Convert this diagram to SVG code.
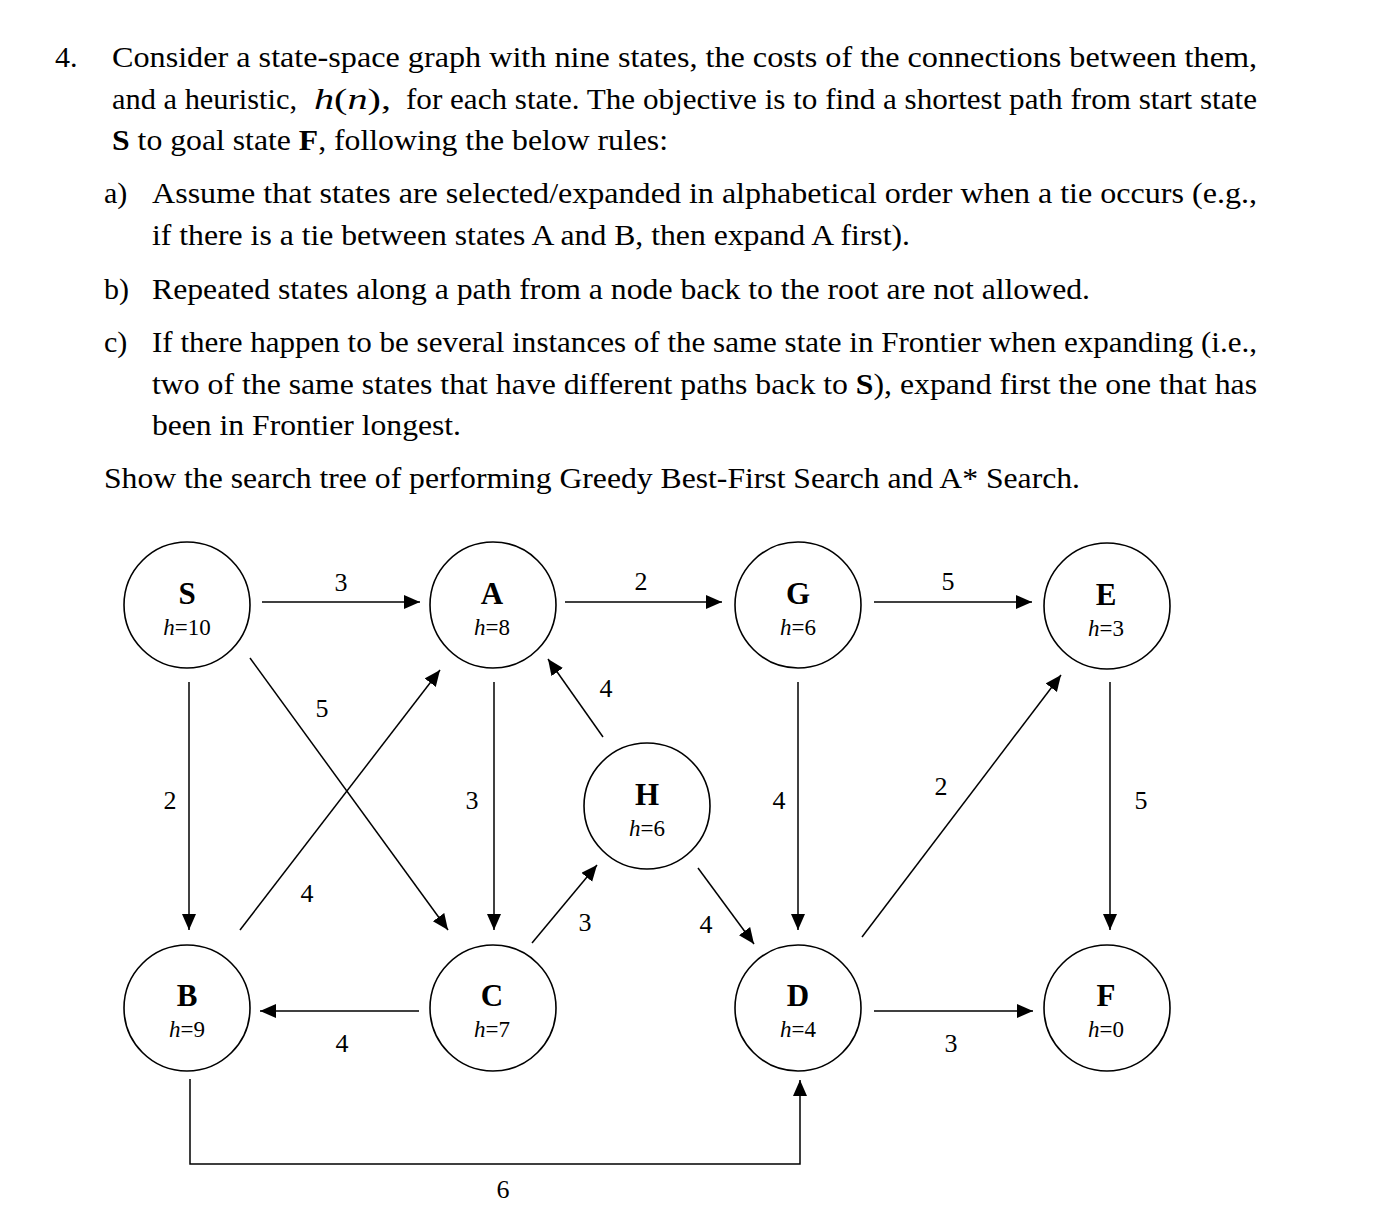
<svg xmlns="http://www.w3.org/2000/svg" width="1378" height="1216" viewBox="0 0 1378 1216">
<style>
.t{font-family:"Liberation Serif","Times New Roman",serif;font-size:30px;fill:#000}
.b{font-weight:bold}
.i{font-style:italic}
.nl{font-family:"Liberation Serif","Times New Roman",serif;font-size:31px;font-weight:bold;text-anchor:middle;fill:#000}
.nh{font-family:"Liberation Serif","Times New Roman",serif;font-size:23px;text-anchor:middle;fill:#000}
.el{font-family:"Liberation Serif","Times New Roman",serif;font-size:26px;text-anchor:middle;fill:#000}
.node circle{fill:#fff;stroke:#000;stroke-width:1.6}
.edge{fill:none;stroke:#000;stroke-width:1.5;marker-end:url(#arr)}
</style>
<defs>
<marker id="arr" markerUnits="userSpaceOnUse" markerWidth="17" markerHeight="15" refX="16" refY="7" orient="auto">
<path d="M0,0 L16,7 L0,14 z" fill="#000"/>
</marker>
</defs>
<rect width="1378" height="1216" fill="#fff"/>
<g id="question">
<text class="t" x="55" y="67">4.</text>
<text class="t" x="112" y="67" textLength="1145" lengthAdjust="spacingAndGlyphs">Consider a state-space graph with nine states, the costs of the connections between them,</text>
<text class="t" x="112" y="109" textLength="185" lengthAdjust="spacingAndGlyphs">and a heuristic,</text>
<text class="t" x="314" y="109" textLength="77" lengthAdjust="spacingAndGlyphs"><tspan class="i">h</tspan>(<tspan class="i">n</tspan>),</text>
<text class="t" x="406" y="109" textLength="851" lengthAdjust="spacingAndGlyphs">for each state. The objective is to find a shortest path from start state</text>
<text class="t" x="112" y="150" textLength="556" lengthAdjust="spacingAndGlyphs"><tspan class="b">S</tspan> to goal state <tspan class="b">F</tspan>, following the below rules:</text>
<text class="t" x="104" y="203">a)</text>
<text class="t" x="152" y="203" textLength="1105" lengthAdjust="spacingAndGlyphs">Assume that states are selected/expanded in alphabetical order when a tie occurs (e.g.,</text>
<text class="t" x="152" y="245" textLength="758" lengthAdjust="spacingAndGlyphs">if there is a tie between states A and B, then expand A first).</text>
<text class="t" x="104" y="299">b)</text>
<text class="t" x="152" y="299" textLength="938" lengthAdjust="spacingAndGlyphs">Repeated states along a path from a node back to the root are not allowed.</text>
<text class="t" x="104" y="352">c)</text>
<text class="t" x="152" y="352" textLength="1105" lengthAdjust="spacingAndGlyphs">If there happen to be several instances of the same state in Frontier when expanding (i.e.,</text>
<text class="t" x="152" y="394" textLength="1105" lengthAdjust="spacingAndGlyphs">two of the same states that have different paths back to <tspan class="b">S</tspan>), expand first the one that has</text>
<text class="t" x="152" y="435" textLength="309" lengthAdjust="spacingAndGlyphs">been in Frontier longest.</text>
<text class="t" x="104" y="488" textLength="976" lengthAdjust="spacingAndGlyphs">Show the search tree of performing Greedy Best-First Search and A* Search.</text>
</g>
<g id="connectors">
<path class="edge" d="M262,602 L420,602"/>
<path class="edge" d="M565,602 L722,602"/>
<path class="edge" d="M874,602 L1032,602"/>
<path class="edge" d="M189,682 L189,930"/>
<path class="edge" d="M494,682 L494,930"/>
<path class="edge" d="M798,682 L798,930"/>
<path class="edge" d="M1110,682 L1110,930"/>
<path class="edge" d="M250,658 L448,930"/>
<path class="edge" d="M240,930 L440,670"/>
<path class="edge" d="M603,737 L548,659"/>
<path class="edge" d="M532,943 L597,865"/>
<path class="edge" d="M698,868 L754,944"/>
<path class="edge" d="M862,937 L1061,675"/>
<path class="edge" d="M419,1011 L260,1011"/>
<path class="edge" d="M874,1011 L1033,1011"/>
<path class="edge" d="M190,1079 L190,1164 L800,1164 L800,1080"/>
<text class="el" x="341" y="591">3</text>
<text class="el" x="641" y="590">2</text>
<text class="el" x="948" y="590">5</text>
<text class="el" x="322" y="717">5</text>
<text class="el" x="170" y="809">2</text>
<text class="el" x="472" y="809">3</text>
<text class="el" x="606" y="697">4</text>
<text class="el" x="307" y="902">4</text>
<text class="el" x="585" y="931">3</text>
<text class="el" x="706" y="933">4</text>
<text class="el" x="779" y="809">4</text>
<text class="el" x="941" y="795">2</text>
<text class="el" x="1141" y="809">5</text>
<text class="el" x="342" y="1052">4</text>
<text class="el" x="951" y="1052">3</text>
<text class="el" x="503" y="1198">6</text>
</g>
<g id="node-S" class="node"><circle cx="187" cy="605" r="63"/><text class="nl" x="187" y="604">S</text><text class="nh" x="187" y="635"><tspan class="i">h</tspan>=10</text></g>
<g id="node-A" class="node"><circle cx="493" cy="605" r="63"/><text class="nl" x="492" y="604">A</text><text class="nh" x="492" y="635"><tspan class="i">h</tspan>=8</text></g>
<g id="node-G" class="node"><circle cx="798" cy="605" r="63"/><text class="nl" x="798" y="604">G</text><text class="nh" x="798" y="635"><tspan class="i">h</tspan>=6</text></g>
<g id="node-E" class="node"><circle cx="1107" cy="606" r="63"/><text class="nl" x="1106" y="605">E</text><text class="nh" x="1106" y="636"><tspan class="i">h</tspan>=3</text></g>
<g id="node-H" class="node"><circle cx="647" cy="806" r="63"/><text class="nl" x="647" y="805">H</text><text class="nh" x="647" y="836"><tspan class="i">h</tspan>=6</text></g>
<g id="node-B" class="node"><circle cx="187" cy="1008" r="63"/><text class="nl" x="187" y="1006">B</text><text class="nh" x="187" y="1037"><tspan class="i">h</tspan>=9</text></g>
<g id="node-C" class="node"><circle cx="493" cy="1008" r="63"/><text class="nl" x="492" y="1006">C</text><text class="nh" x="492" y="1037"><tspan class="i">h</tspan>=7</text></g>
<g id="node-D" class="node"><circle cx="798" cy="1008" r="63"/><text class="nl" x="798" y="1006">D</text><text class="nh" x="798" y="1037"><tspan class="i">h</tspan>=4</text></g>
<g id="node-F" class="node"><circle cx="1107" cy="1008" r="63"/><text class="nl" x="1106" y="1006">F</text><text class="nh" x="1106" y="1037"><tspan class="i">h</tspan>=0</text></g>
</svg>
